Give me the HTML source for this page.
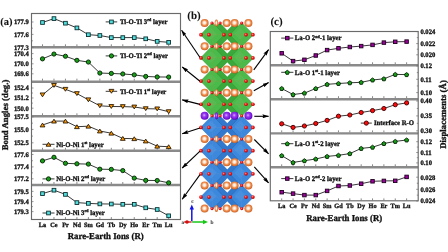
<!DOCTYPE html>
<html><head><meta charset="utf-8"><title>Bond angles and displacements</title>
<style>html,body{margin:0;padding:0;background:#fff;}svg{display:block;}text{text-rendering:geometricPrecision;}</style></head>
<body><svg width="448" height="252" viewBox="0 0 448 252"><defs>
<radialGradient id="gLa" cx="0.48" cy="0.46" r="0.55"><stop offset="0" stop-color="#ffffff"/><stop offset="0.32" stop-color="#fde2d0"/><stop offset="0.58" stop-color="#f09252"/><stop offset="0.84" stop-color="#dc7032"/><stop offset="1" stop-color="#b4561c"/></radialGradient>
<radialGradient id="gPu" cx="0.45" cy="0.42" r="0.6"><stop offset="0" stop-color="#d8b0ff"/><stop offset="0.35" stop-color="#9a3cf0"/><stop offset="0.8" stop-color="#7010d8"/><stop offset="1" stop-color="#4a0098"/></radialGradient>
<radialGradient id="gO" cx="0.4" cy="0.4" r="0.7"><stop offset="0" stop-color="#ff8080"/><stop offset="0.5" stop-color="#ee1010"/><stop offset="1" stop-color="#a00000"/></radialGradient>
<marker id="ah" viewBox="0 0 10 10" refX="9.5" refY="5" markerWidth="6.5" markerHeight="4" orient="auto" markerUnits="userSpaceOnUse" preserveAspectRatio="none"><path d="M0,0 L10,5 L0,10 L1.5,5 z" fill="#000"/></marker>
<marker id="ahb" viewBox="0 0 10 10" refX="2" refY="5" markerWidth="4.5" markerHeight="4.5" orient="auto" markerUnits="userSpaceOnUse"><path d="M0,0 L10,5 L0,10 z" fill="#1010e0"/></marker>
<marker id="ahg" viewBox="0 0 10 10" refX="2" refY="5" markerWidth="4.5" markerHeight="4.5" orient="auto" markerUnits="userSpaceOnUse"><path d="M0,0 L10,5 L0,10 z" fill="#10c010"/></marker>
</defs><rect width="448" height="252" fill="#fff"/><line x1="42.5" y1="46.3" x2="42.5" y2="44.3" stroke="#6a6a6a" stroke-width="0.8"/><line x1="53.97" y1="46.3" x2="53.97" y2="44.3" stroke="#6a6a6a" stroke-width="0.8"/><line x1="65.44" y1="46.3" x2="65.44" y2="44.3" stroke="#6a6a6a" stroke-width="0.8"/><line x1="76.91" y1="46.3" x2="76.91" y2="44.3" stroke="#6a6a6a" stroke-width="0.8"/><line x1="88.38" y1="46.3" x2="88.38" y2="44.3" stroke="#6a6a6a" stroke-width="0.8"/><line x1="99.85" y1="46.3" x2="99.85" y2="44.3" stroke="#6a6a6a" stroke-width="0.8"/><line x1="111.32" y1="46.3" x2="111.32" y2="44.3" stroke="#6a6a6a" stroke-width="0.8"/><line x1="122.79" y1="46.3" x2="122.79" y2="44.3" stroke="#6a6a6a" stroke-width="0.8"/><line x1="134.26" y1="46.3" x2="134.26" y2="44.3" stroke="#6a6a6a" stroke-width="0.8"/><line x1="145.73" y1="46.3" x2="145.73" y2="44.3" stroke="#6a6a6a" stroke-width="0.8"/><line x1="157.2" y1="46.3" x2="157.2" y2="44.3" stroke="#6a6a6a" stroke-width="0.8"/><line x1="168.67" y1="46.3" x2="168.67" y2="44.3" stroke="#6a6a6a" stroke-width="0.8"/><line x1="42.5" y1="80.7" x2="42.5" y2="78.7" stroke="#6a6a6a" stroke-width="0.8"/><line x1="53.97" y1="80.7" x2="53.97" y2="78.7" stroke="#6a6a6a" stroke-width="0.8"/><line x1="65.44" y1="80.7" x2="65.44" y2="78.7" stroke="#6a6a6a" stroke-width="0.8"/><line x1="76.91" y1="80.7" x2="76.91" y2="78.7" stroke="#6a6a6a" stroke-width="0.8"/><line x1="88.38" y1="80.7" x2="88.38" y2="78.7" stroke="#6a6a6a" stroke-width="0.8"/><line x1="99.85" y1="80.7" x2="99.85" y2="78.7" stroke="#6a6a6a" stroke-width="0.8"/><line x1="111.32" y1="80.7" x2="111.32" y2="78.7" stroke="#6a6a6a" stroke-width="0.8"/><line x1="122.79" y1="80.7" x2="122.79" y2="78.7" stroke="#6a6a6a" stroke-width="0.8"/><line x1="134.26" y1="80.7" x2="134.26" y2="78.7" stroke="#6a6a6a" stroke-width="0.8"/><line x1="145.73" y1="80.7" x2="145.73" y2="78.7" stroke="#6a6a6a" stroke-width="0.8"/><line x1="157.2" y1="80.7" x2="157.2" y2="78.7" stroke="#6a6a6a" stroke-width="0.8"/><line x1="168.67" y1="80.7" x2="168.67" y2="78.7" stroke="#6a6a6a" stroke-width="0.8"/><line x1="42.5" y1="115.3" x2="42.5" y2="113.3" stroke="#6a6a6a" stroke-width="0.8"/><line x1="53.97" y1="115.3" x2="53.97" y2="113.3" stroke="#6a6a6a" stroke-width="0.8"/><line x1="65.44" y1="115.3" x2="65.44" y2="113.3" stroke="#6a6a6a" stroke-width="0.8"/><line x1="76.91" y1="115.3" x2="76.91" y2="113.3" stroke="#6a6a6a" stroke-width="0.8"/><line x1="88.38" y1="115.3" x2="88.38" y2="113.3" stroke="#6a6a6a" stroke-width="0.8"/><line x1="99.85" y1="115.3" x2="99.85" y2="113.3" stroke="#6a6a6a" stroke-width="0.8"/><line x1="111.32" y1="115.3" x2="111.32" y2="113.3" stroke="#6a6a6a" stroke-width="0.8"/><line x1="122.79" y1="115.3" x2="122.79" y2="113.3" stroke="#6a6a6a" stroke-width="0.8"/><line x1="134.26" y1="115.3" x2="134.26" y2="113.3" stroke="#6a6a6a" stroke-width="0.8"/><line x1="145.73" y1="115.3" x2="145.73" y2="113.3" stroke="#6a6a6a" stroke-width="0.8"/><line x1="157.2" y1="115.3" x2="157.2" y2="113.3" stroke="#6a6a6a" stroke-width="0.8"/><line x1="168.67" y1="115.3" x2="168.67" y2="113.3" stroke="#6a6a6a" stroke-width="0.8"/><line x1="42.5" y1="149.8" x2="42.5" y2="147.8" stroke="#6a6a6a" stroke-width="0.8"/><line x1="53.97" y1="149.8" x2="53.97" y2="147.8" stroke="#6a6a6a" stroke-width="0.8"/><line x1="65.44" y1="149.8" x2="65.44" y2="147.8" stroke="#6a6a6a" stroke-width="0.8"/><line x1="76.91" y1="149.8" x2="76.91" y2="147.8" stroke="#6a6a6a" stroke-width="0.8"/><line x1="88.38" y1="149.8" x2="88.38" y2="147.8" stroke="#6a6a6a" stroke-width="0.8"/><line x1="99.85" y1="149.8" x2="99.85" y2="147.8" stroke="#6a6a6a" stroke-width="0.8"/><line x1="111.32" y1="149.8" x2="111.32" y2="147.8" stroke="#6a6a6a" stroke-width="0.8"/><line x1="122.79" y1="149.8" x2="122.79" y2="147.8" stroke="#6a6a6a" stroke-width="0.8"/><line x1="134.26" y1="149.8" x2="134.26" y2="147.8" stroke="#6a6a6a" stroke-width="0.8"/><line x1="145.73" y1="149.8" x2="145.73" y2="147.8" stroke="#6a6a6a" stroke-width="0.8"/><line x1="157.2" y1="149.8" x2="157.2" y2="147.8" stroke="#6a6a6a" stroke-width="0.8"/><line x1="168.67" y1="149.8" x2="168.67" y2="147.8" stroke="#6a6a6a" stroke-width="0.8"/><line x1="42.5" y1="184" x2="42.5" y2="182" stroke="#6a6a6a" stroke-width="0.8"/><line x1="53.97" y1="184" x2="53.97" y2="182" stroke="#6a6a6a" stroke-width="0.8"/><line x1="65.44" y1="184" x2="65.44" y2="182" stroke="#6a6a6a" stroke-width="0.8"/><line x1="76.91" y1="184" x2="76.91" y2="182" stroke="#6a6a6a" stroke-width="0.8"/><line x1="88.38" y1="184" x2="88.38" y2="182" stroke="#6a6a6a" stroke-width="0.8"/><line x1="99.85" y1="184" x2="99.85" y2="182" stroke="#6a6a6a" stroke-width="0.8"/><line x1="111.32" y1="184" x2="111.32" y2="182" stroke="#6a6a6a" stroke-width="0.8"/><line x1="122.79" y1="184" x2="122.79" y2="182" stroke="#6a6a6a" stroke-width="0.8"/><line x1="134.26" y1="184" x2="134.26" y2="182" stroke="#6a6a6a" stroke-width="0.8"/><line x1="145.73" y1="184" x2="145.73" y2="182" stroke="#6a6a6a" stroke-width="0.8"/><line x1="157.2" y1="184" x2="157.2" y2="182" stroke="#6a6a6a" stroke-width="0.8"/><line x1="168.67" y1="184" x2="168.67" y2="182" stroke="#6a6a6a" stroke-width="0.8"/><line x1="42.5" y1="219.1" x2="42.5" y2="217.1" stroke="#6a6a6a" stroke-width="0.8"/><line x1="53.97" y1="219.1" x2="53.97" y2="217.1" stroke="#6a6a6a" stroke-width="0.8"/><line x1="65.44" y1="219.1" x2="65.44" y2="217.1" stroke="#6a6a6a" stroke-width="0.8"/><line x1="76.91" y1="219.1" x2="76.91" y2="217.1" stroke="#6a6a6a" stroke-width="0.8"/><line x1="88.38" y1="219.1" x2="88.38" y2="217.1" stroke="#6a6a6a" stroke-width="0.8"/><line x1="99.85" y1="219.1" x2="99.85" y2="217.1" stroke="#6a6a6a" stroke-width="0.8"/><line x1="111.32" y1="219.1" x2="111.32" y2="217.1" stroke="#6a6a6a" stroke-width="0.8"/><line x1="122.79" y1="219.1" x2="122.79" y2="217.1" stroke="#6a6a6a" stroke-width="0.8"/><line x1="134.26" y1="219.1" x2="134.26" y2="217.1" stroke="#6a6a6a" stroke-width="0.8"/><line x1="145.73" y1="219.1" x2="145.73" y2="217.1" stroke="#6a6a6a" stroke-width="0.8"/><line x1="157.2" y1="219.1" x2="157.2" y2="217.1" stroke="#6a6a6a" stroke-width="0.8"/><line x1="168.67" y1="219.1" x2="168.67" y2="217.1" stroke="#6a6a6a" stroke-width="0.8"/><line x1="31.5" y1="47.3" x2="180.5" y2="47.3" stroke="#8a8a8a" stroke-width="2.4"/><line x1="31.5" y1="81.7" x2="180.5" y2="81.7" stroke="#8a8a8a" stroke-width="2.4"/><line x1="31.5" y1="116.3" x2="180.5" y2="116.3" stroke="#8a8a8a" stroke-width="2.4"/><line x1="31.5" y1="150.8" x2="180.5" y2="150.8" stroke="#8a8a8a" stroke-width="2.4"/><line x1="31.5" y1="185" x2="180.5" y2="185" stroke="#8a8a8a" stroke-width="2.4"/><rect x="31.5" y="13.5" width="149" height="206" fill="none" stroke="#6a6a6a" stroke-width="1.15"/><line x1="31.5" y1="28.2" x2="32.9" y2="28.2" stroke="#6a6a6a" stroke-width="0.7"/><line x1="31.5" y1="40.8" x2="32.9" y2="40.8" stroke="#6a6a6a" stroke-width="0.7"/><line x1="31.5" y1="58.7" x2="32.9" y2="58.7" stroke="#6a6a6a" stroke-width="0.7"/><line x1="31.5" y1="68.8" x2="32.9" y2="68.8" stroke="#6a6a6a" stroke-width="0.7"/><line x1="31.5" y1="93" x2="32.9" y2="93" stroke="#6a6a6a" stroke-width="0.7"/><line x1="31.5" y1="103.1" x2="32.9" y2="103.1" stroke="#6a6a6a" stroke-width="0.7"/><line x1="31.5" y1="123.15" x2="32.9" y2="123.15" stroke="#6a6a6a" stroke-width="0.7"/><line x1="31.5" y1="136.1" x2="32.9" y2="136.1" stroke="#6a6a6a" stroke-width="0.7"/><line x1="31.5" y1="160.7" x2="32.9" y2="160.7" stroke="#6a6a6a" stroke-width="0.7"/><line x1="31.5" y1="172.85" x2="32.9" y2="172.85" stroke="#6a6a6a" stroke-width="0.7"/><line x1="31.5" y1="196.5" x2="32.9" y2="196.5" stroke="#6a6a6a" stroke-width="0.7"/><line x1="31.5" y1="206.6" x2="32.9" y2="206.6" stroke="#6a6a6a" stroke-width="0.7"/><line x1="31.5" y1="22" x2="33.5" y2="22" stroke="#6a6a6a" stroke-width="0.7"/><text transform="translate(28.8,24.3) scale(0.955,1)" font-family="Liberation Serif, serif" font-weight="bold" font-size="6.9" text-anchor="end" fill="#111" stroke="#111" stroke-width="0.32">177.9</text><line x1="31.5" y1="34.4" x2="33.5" y2="34.4" stroke="#6a6a6a" stroke-width="0.7"/><text transform="translate(28.8,36.7) scale(0.955,1)" font-family="Liberation Serif, serif" font-weight="bold" font-size="6.9" text-anchor="end" fill="#111" stroke="#111" stroke-width="0.32">177.6</text><line x1="31.5" y1="47.2" x2="33.5" y2="47.2" stroke="#6a6a6a" stroke-width="0.7"/><text transform="translate(28.8,49.5) scale(0.955,1)" font-family="Liberation Serif, serif" font-weight="bold" font-size="6.9" text-anchor="end" fill="#111" stroke="#111" stroke-width="0.32">177.3</text><line x1="31.5" y1="53.6" x2="33.5" y2="53.6" stroke="#6a6a6a" stroke-width="0.7"/><text transform="translate(28.8,55.9) scale(0.955,1)" font-family="Liberation Serif, serif" font-weight="bold" font-size="6.9" text-anchor="end" fill="#111" stroke="#111" stroke-width="0.32">170.4</text><line x1="31.5" y1="63.8" x2="33.5" y2="63.8" stroke="#6a6a6a" stroke-width="0.7"/><text transform="translate(28.8,66.1) scale(0.955,1)" font-family="Liberation Serif, serif" font-weight="bold" font-size="6.9" text-anchor="end" fill="#111" stroke="#111" stroke-width="0.32">170.0</text><line x1="31.5" y1="73.8" x2="33.5" y2="73.8" stroke="#6a6a6a" stroke-width="0.7"/><text transform="translate(28.8,76.1) scale(0.955,1)" font-family="Liberation Serif, serif" font-weight="bold" font-size="6.9" text-anchor="end" fill="#111" stroke="#111" stroke-width="0.32">169.6</text><line x1="31.5" y1="88" x2="33.5" y2="88" stroke="#6a6a6a" stroke-width="0.7"/><text transform="translate(28.8,90.3) scale(0.955,1)" font-family="Liberation Serif, serif" font-weight="bold" font-size="6.9" text-anchor="end" fill="#111" stroke="#111" stroke-width="0.32">152.4</text><line x1="31.5" y1="98" x2="33.5" y2="98" stroke="#6a6a6a" stroke-width="0.7"/><text transform="translate(28.8,100.3) scale(0.955,1)" font-family="Liberation Serif, serif" font-weight="bold" font-size="6.9" text-anchor="end" fill="#111" stroke="#111" stroke-width="0.32">151.2</text><line x1="31.5" y1="108.2" x2="33.5" y2="108.2" stroke="#6a6a6a" stroke-width="0.7"/><text transform="translate(28.8,110.5) scale(0.955,1)" font-family="Liberation Serif, serif" font-weight="bold" font-size="6.9" text-anchor="end" fill="#111" stroke="#111" stroke-width="0.32">150.0</text><line x1="31.5" y1="116.9" x2="33.5" y2="116.9" stroke="#6a6a6a" stroke-width="0.7"/><text transform="translate(28.8,119.2) scale(0.955,1)" font-family="Liberation Serif, serif" font-weight="bold" font-size="6.9" text-anchor="end" fill="#111" stroke="#111" stroke-width="0.32">157.5</text><line x1="31.5" y1="129.4" x2="33.5" y2="129.4" stroke="#6a6a6a" stroke-width="0.7"/><text transform="translate(28.8,131.7) scale(0.955,1)" font-family="Liberation Serif, serif" font-weight="bold" font-size="6.9" text-anchor="end" fill="#111" stroke="#111" stroke-width="0.32">155.0</text><line x1="31.5" y1="142.8" x2="33.5" y2="142.8" stroke="#6a6a6a" stroke-width="0.7"/><text transform="translate(28.8,145.1) scale(0.955,1)" font-family="Liberation Serif, serif" font-weight="bold" font-size="6.9" text-anchor="end" fill="#111" stroke="#111" stroke-width="0.32">152.5</text><line x1="31.5" y1="154.5" x2="33.5" y2="154.5" stroke="#6a6a6a" stroke-width="0.7"/><text transform="translate(28.8,156.8) scale(0.955,1)" font-family="Liberation Serif, serif" font-weight="bold" font-size="6.9" text-anchor="end" fill="#111" stroke="#111" stroke-width="0.32">177.6</text><line x1="31.5" y1="166.9" x2="33.5" y2="166.9" stroke="#6a6a6a" stroke-width="0.7"/><text transform="translate(28.8,169.2) scale(0.955,1)" font-family="Liberation Serif, serif" font-weight="bold" font-size="6.9" text-anchor="end" fill="#111" stroke="#111" stroke-width="0.32">177.4</text><line x1="31.5" y1="178.8" x2="33.5" y2="178.8" stroke="#6a6a6a" stroke-width="0.7"/><text transform="translate(28.8,181.1) scale(0.955,1)" font-family="Liberation Serif, serif" font-weight="bold" font-size="6.9" text-anchor="end" fill="#111" stroke="#111" stroke-width="0.32">177.2</text><line x1="31.5" y1="191.4" x2="33.5" y2="191.4" stroke="#6a6a6a" stroke-width="0.7"/><text transform="translate(28.8,193.7) scale(0.955,1)" font-family="Liberation Serif, serif" font-weight="bold" font-size="6.9" text-anchor="end" fill="#111" stroke="#111" stroke-width="0.32">179.5</text><line x1="31.5" y1="201.6" x2="33.5" y2="201.6" stroke="#6a6a6a" stroke-width="0.7"/><text transform="translate(28.8,203.9) scale(0.955,1)" font-family="Liberation Serif, serif" font-weight="bold" font-size="6.9" text-anchor="end" fill="#111" stroke="#111" stroke-width="0.32">179.4</text><line x1="31.5" y1="211.6" x2="33.5" y2="211.6" stroke="#6a6a6a" stroke-width="0.7"/><text transform="translate(28.8,213.9) scale(0.955,1)" font-family="Liberation Serif, serif" font-weight="bold" font-size="6.9" text-anchor="end" fill="#111" stroke="#111" stroke-width="0.32">179.3</text><polyline points="42.5,22.5 53.97,18.6 65.44,23.2 76.91,27.9 88.38,34.7 99.85,35.5 111.32,37.6 122.79,37.6 134.26,37.6 145.73,38.8 157.2,41.4 168.67,42.3" fill="none" stroke="#222" stroke-width="0.9"/><rect x="40.65" y="20.65" width="3.7" height="3.7" fill="#50dede" stroke="#0d3030" stroke-width="0.9"/><rect x="52.12" y="16.75" width="3.7" height="3.7" fill="#50dede" stroke="#0d3030" stroke-width="0.9"/><rect x="63.59" y="21.35" width="3.7" height="3.7" fill="#50dede" stroke="#0d3030" stroke-width="0.9"/><rect x="75.06" y="26.05" width="3.7" height="3.7" fill="#50dede" stroke="#0d3030" stroke-width="0.9"/><rect x="86.53" y="32.85" width="3.7" height="3.7" fill="#50dede" stroke="#0d3030" stroke-width="0.9"/><rect x="98" y="33.65" width="3.7" height="3.7" fill="#50dede" stroke="#0d3030" stroke-width="0.9"/><rect x="109.47" y="35.75" width="3.7" height="3.7" fill="#50dede" stroke="#0d3030" stroke-width="0.9"/><rect x="120.94" y="35.75" width="3.7" height="3.7" fill="#50dede" stroke="#0d3030" stroke-width="0.9"/><rect x="132.41" y="35.75" width="3.7" height="3.7" fill="#50dede" stroke="#0d3030" stroke-width="0.9"/><rect x="143.88" y="36.95" width="3.7" height="3.7" fill="#50dede" stroke="#0d3030" stroke-width="0.9"/><rect x="155.35" y="39.55" width="3.7" height="3.7" fill="#50dede" stroke="#0d3030" stroke-width="0.9"/><rect x="166.82" y="40.45" width="3.7" height="3.7" fill="#50dede" stroke="#0d3030" stroke-width="0.9"/><polyline points="42.5,58.85 53.97,54.05 65.44,56.25 76.91,60.35 88.38,62.05 99.85,73.05 111.32,73.45 122.79,73.95 134.26,74.85 145.73,76.45 157.2,76.95 168.67,77.05" fill="none" stroke="#222" stroke-width="0.9"/><circle cx="42.5" cy="58.85" r="2.1" fill="#16a016" stroke="#062806" stroke-width="0.95"/><circle cx="53.97" cy="54.05" r="2.1" fill="#16a016" stroke="#062806" stroke-width="0.95"/><circle cx="65.44" cy="56.25" r="2.1" fill="#16a016" stroke="#062806" stroke-width="0.95"/><circle cx="76.91" cy="60.35" r="2.1" fill="#16a016" stroke="#062806" stroke-width="0.95"/><circle cx="88.38" cy="62.05" r="2.1" fill="#16a016" stroke="#062806" stroke-width="0.95"/><circle cx="99.85" cy="73.05" r="2.1" fill="#16a016" stroke="#062806" stroke-width="0.95"/><circle cx="111.32" cy="73.45" r="2.1" fill="#16a016" stroke="#062806" stroke-width="0.95"/><circle cx="122.79" cy="73.95" r="2.1" fill="#16a016" stroke="#062806" stroke-width="0.95"/><circle cx="134.26" cy="74.85" r="2.1" fill="#16a016" stroke="#062806" stroke-width="0.95"/><circle cx="145.73" cy="76.45" r="2.1" fill="#16a016" stroke="#062806" stroke-width="0.95"/><circle cx="157.2" cy="76.95" r="2.1" fill="#16a016" stroke="#062806" stroke-width="0.95"/><circle cx="168.67" cy="77.05" r="2.1" fill="#16a016" stroke="#062806" stroke-width="0.95"/><polyline points="42.5,94.9 53.97,85.4 65.44,89.3 76.91,93.6 88.38,99.8 99.85,105.8 111.32,106.5 122.79,106.6 134.26,107 145.73,108.7 157.2,108.9 168.67,111.7" fill="none" stroke="#222" stroke-width="0.9"/><polygon points="40.1,92.98 44.9,92.98 42.5,96.82" fill="#ff9a00" stroke="#2a1800" stroke-width="0.9"/><polygon points="51.57,83.48 56.37,83.48 53.97,87.32" fill="#ff9a00" stroke="#2a1800" stroke-width="0.9"/><polygon points="63.04,87.38 67.84,87.38 65.44,91.22" fill="#ff9a00" stroke="#2a1800" stroke-width="0.9"/><polygon points="74.51,91.68 79.31,91.68 76.91,95.52" fill="#ff9a00" stroke="#2a1800" stroke-width="0.9"/><polygon points="85.98,97.88 90.78,97.88 88.38,101.72" fill="#ff9a00" stroke="#2a1800" stroke-width="0.9"/><polygon points="97.45,103.88 102.25,103.88 99.85,107.72" fill="#ff9a00" stroke="#2a1800" stroke-width="0.9"/><polygon points="108.92,104.58 113.72,104.58 111.32,108.42" fill="#ff9a00" stroke="#2a1800" stroke-width="0.9"/><polygon points="120.39,104.68 125.19,104.68 122.79,108.52" fill="#ff9a00" stroke="#2a1800" stroke-width="0.9"/><polygon points="131.86,105.08 136.66,105.08 134.26,108.92" fill="#ff9a00" stroke="#2a1800" stroke-width="0.9"/><polygon points="143.33,106.78 148.13,106.78 145.73,110.62" fill="#ff9a00" stroke="#2a1800" stroke-width="0.9"/><polygon points="154.8,106.98 159.6,106.98 157.2,110.82" fill="#ff9a00" stroke="#2a1800" stroke-width="0.9"/><polygon points="166.27,109.78 171.07,109.78 168.67,113.62" fill="#ff9a00" stroke="#2a1800" stroke-width="0.9"/><polyline points="42.5,125 53.97,121.1 65.44,121.1 76.91,126.7 88.38,126.2 99.85,131 111.32,133.2 122.79,138.4 134.26,138.7 145.73,141 157.2,146.2 168.67,146.7" fill="none" stroke="#222" stroke-width="0.9"/><polygon points="40.1,126.92 44.9,126.92 42.5,123.08" fill="#ff9a00" stroke="#2a1800" stroke-width="0.9"/><polygon points="51.57,123.02 56.37,123.02 53.97,119.18" fill="#ff9a00" stroke="#2a1800" stroke-width="0.9"/><polygon points="63.04,123.02 67.84,123.02 65.44,119.18" fill="#ff9a00" stroke="#2a1800" stroke-width="0.9"/><polygon points="74.51,128.62 79.31,128.62 76.91,124.78" fill="#ff9a00" stroke="#2a1800" stroke-width="0.9"/><polygon points="85.98,128.12 90.78,128.12 88.38,124.28" fill="#ff9a00" stroke="#2a1800" stroke-width="0.9"/><polygon points="97.45,132.92 102.25,132.92 99.85,129.08" fill="#ff9a00" stroke="#2a1800" stroke-width="0.9"/><polygon points="108.92,135.12 113.72,135.12 111.32,131.28" fill="#ff9a00" stroke="#2a1800" stroke-width="0.9"/><polygon points="120.39,140.32 125.19,140.32 122.79,136.48" fill="#ff9a00" stroke="#2a1800" stroke-width="0.9"/><polygon points="131.86,140.62 136.66,140.62 134.26,136.78" fill="#ff9a00" stroke="#2a1800" stroke-width="0.9"/><polygon points="143.33,142.92 148.13,142.92 145.73,139.08" fill="#ff9a00" stroke="#2a1800" stroke-width="0.9"/><polygon points="154.8,148.12 159.6,148.12 157.2,144.28" fill="#ff9a00" stroke="#2a1800" stroke-width="0.9"/><polygon points="166.27,148.62 171.07,148.62 168.67,144.78" fill="#ff9a00" stroke="#2a1800" stroke-width="0.9"/><polyline points="42.5,160.9 53.97,157.3 65.44,163.3 76.91,163.8 88.38,164.1 99.85,169.2 111.32,169.4 122.79,170.6 134.26,178.1 145.73,180.4 157.2,180.5 168.67,182.8" fill="none" stroke="#222" stroke-width="0.9"/><circle cx="42.5" cy="160.9" r="2.1" fill="#16a016" stroke="#062806" stroke-width="0.95"/><circle cx="53.97" cy="157.3" r="2.1" fill="#16a016" stroke="#062806" stroke-width="0.95"/><circle cx="65.44" cy="163.3" r="2.1" fill="#16a016" stroke="#062806" stroke-width="0.95"/><circle cx="76.91" cy="163.8" r="2.1" fill="#16a016" stroke="#062806" stroke-width="0.95"/><circle cx="88.38" cy="164.1" r="2.1" fill="#16a016" stroke="#062806" stroke-width="0.95"/><circle cx="99.85" cy="169.2" r="2.1" fill="#16a016" stroke="#062806" stroke-width="0.95"/><circle cx="111.32" cy="169.4" r="2.1" fill="#16a016" stroke="#062806" stroke-width="0.95"/><circle cx="122.79" cy="170.6" r="2.1" fill="#16a016" stroke="#062806" stroke-width="0.95"/><circle cx="134.26" cy="178.1" r="2.1" fill="#16a016" stroke="#062806" stroke-width="0.95"/><circle cx="145.73" cy="180.4" r="2.1" fill="#16a016" stroke="#062806" stroke-width="0.95"/><circle cx="157.2" cy="180.5" r="2.1" fill="#16a016" stroke="#062806" stroke-width="0.95"/><circle cx="168.67" cy="182.8" r="2.1" fill="#16a016" stroke="#062806" stroke-width="0.95"/><polyline points="42.5,193.6 53.97,190.2 65.44,194.4 76.91,202.6 88.38,203.4 99.85,203.9 111.32,204 122.79,204.3 134.26,204.3 145.73,207.8 157.2,209.5 168.67,215.8" fill="none" stroke="#222" stroke-width="0.9"/><rect x="40.65" y="191.75" width="3.7" height="3.7" fill="#50dede" stroke="#0d3030" stroke-width="0.9"/><rect x="52.12" y="188.35" width="3.7" height="3.7" fill="#50dede" stroke="#0d3030" stroke-width="0.9"/><rect x="63.59" y="192.55" width="3.7" height="3.7" fill="#50dede" stroke="#0d3030" stroke-width="0.9"/><rect x="75.06" y="200.75" width="3.7" height="3.7" fill="#50dede" stroke="#0d3030" stroke-width="0.9"/><rect x="86.53" y="201.55" width="3.7" height="3.7" fill="#50dede" stroke="#0d3030" stroke-width="0.9"/><rect x="98" y="202.05" width="3.7" height="3.7" fill="#50dede" stroke="#0d3030" stroke-width="0.9"/><rect x="109.47" y="202.15" width="3.7" height="3.7" fill="#50dede" stroke="#0d3030" stroke-width="0.9"/><rect x="120.94" y="202.45" width="3.7" height="3.7" fill="#50dede" stroke="#0d3030" stroke-width="0.9"/><rect x="132.41" y="202.45" width="3.7" height="3.7" fill="#50dede" stroke="#0d3030" stroke-width="0.9"/><rect x="143.88" y="205.95" width="3.7" height="3.7" fill="#50dede" stroke="#0d3030" stroke-width="0.9"/><rect x="155.35" y="207.65" width="3.7" height="3.7" fill="#50dede" stroke="#0d3030" stroke-width="0.9"/><rect x="166.82" y="213.95" width="3.7" height="3.7" fill="#50dede" stroke="#0d3030" stroke-width="0.9"/><line x1="105.7" y1="21.9" x2="117.2" y2="21.9" stroke="#222" stroke-width="0.9"/><rect x="109.6" y="20.05" width="3.7" height="3.7" fill="#50dede" stroke="#0d3030" stroke-width="0.9"/><text transform="translate(120,24.2) scale(0.96,1)" font-family="Liberation Serif, serif" font-weight="bold" font-size="7.0" text-anchor="start" fill="#111" stroke="#111" stroke-width="0.32">Ti-O-Ti 3<tspan font-size="4.2" dy="-2.9">rd</tspan><tspan dy="2.9"> layer</tspan></text><line x1="105.7" y1="55.9" x2="117.2" y2="55.9" stroke="#222" stroke-width="0.9"/><circle cx="111.45" cy="55.9" r="2.1" fill="#16a016" stroke="#062806" stroke-width="0.95"/><text transform="translate(120,58.2) scale(0.96,1)" font-family="Liberation Serif, serif" font-weight="bold" font-size="7.0" text-anchor="start" fill="#111" stroke="#111" stroke-width="0.32">Ti-O-Ti 2<tspan font-size="4.2" dy="-2.9">nd</tspan><tspan dy="2.9"> layer</tspan></text><line x1="105.7" y1="91.3" x2="117.2" y2="91.3" stroke="#222" stroke-width="0.9"/><polygon points="109.05,89.38 113.85,89.38 111.45,93.22" fill="#ff9a00" stroke="#2a1800" stroke-width="0.9"/><text transform="translate(120,93.6) scale(0.96,1)" font-family="Liberation Serif, serif" font-weight="bold" font-size="7.0" text-anchor="start" fill="#111" stroke="#111" stroke-width="0.32">Ti-O-Ti 1<tspan font-size="4.2" dy="-2.9">st</tspan><tspan dy="2.9"> layer</tspan></text><line x1="42.5" y1="144.3" x2="54.5" y2="144.3" stroke="#222" stroke-width="0.9"/><polygon points="46.1,146.22 50.9,146.22 48.5,142.38" fill="#ff9a00" stroke="#2a1800" stroke-width="0.9"/><text transform="translate(56.3,146.6) scale(0.96,1)" font-family="Liberation Serif, serif" font-weight="bold" font-size="7.0" text-anchor="start" fill="#111" stroke="#111" stroke-width="0.32">Ni-O-Ni 1<tspan font-size="4.2" dy="-2.9">st</tspan><tspan dy="2.9"> layer</tspan></text><line x1="42.5" y1="178.9" x2="54.5" y2="178.9" stroke="#222" stroke-width="0.9"/><circle cx="48.5" cy="178.9" r="2.1" fill="#16a016" stroke="#062806" stroke-width="0.95"/><text transform="translate(56.3,181.2) scale(0.96,1)" font-family="Liberation Serif, serif" font-weight="bold" font-size="7.0" text-anchor="start" fill="#111" stroke="#111" stroke-width="0.32">Ni-O-Ni 2<tspan font-size="4.2" dy="-2.9">nd</tspan><tspan dy="2.9"> layer</tspan></text><line x1="42.5" y1="213" x2="54.5" y2="213" stroke="#222" stroke-width="0.9"/><rect x="46.65" y="211.15" width="3.7" height="3.7" fill="#50dede" stroke="#0d3030" stroke-width="0.9"/><text transform="translate(56.3,215.3) scale(0.96,1)" font-family="Liberation Serif, serif" font-weight="bold" font-size="7.0" text-anchor="start" fill="#111" stroke="#111" stroke-width="0.32">Ni-O-Ni 3<tspan font-size="4.2" dy="-2.9">rd</tspan><tspan dy="2.9"> layer</tspan></text><line x1="281.7" y1="64.3" x2="281.7" y2="62.3" stroke="#6a6a6a" stroke-width="0.8"/><line x1="293.06" y1="64.3" x2="293.06" y2="62.3" stroke="#6a6a6a" stroke-width="0.8"/><line x1="304.41" y1="64.3" x2="304.41" y2="62.3" stroke="#6a6a6a" stroke-width="0.8"/><line x1="315.76" y1="64.3" x2="315.76" y2="62.3" stroke="#6a6a6a" stroke-width="0.8"/><line x1="327.12" y1="64.3" x2="327.12" y2="62.3" stroke="#6a6a6a" stroke-width="0.8"/><line x1="338.48" y1="64.3" x2="338.48" y2="62.3" stroke="#6a6a6a" stroke-width="0.8"/><line x1="349.83" y1="64.3" x2="349.83" y2="62.3" stroke="#6a6a6a" stroke-width="0.8"/><line x1="361.19" y1="64.3" x2="361.19" y2="62.3" stroke="#6a6a6a" stroke-width="0.8"/><line x1="372.54" y1="64.3" x2="372.54" y2="62.3" stroke="#6a6a6a" stroke-width="0.8"/><line x1="383.89" y1="64.3" x2="383.89" y2="62.3" stroke="#6a6a6a" stroke-width="0.8"/><line x1="395.25" y1="64.3" x2="395.25" y2="62.3" stroke="#6a6a6a" stroke-width="0.8"/><line x1="406.61" y1="64.3" x2="406.61" y2="62.3" stroke="#6a6a6a" stroke-width="0.8"/><line x1="281.7" y1="98.2" x2="281.7" y2="96.2" stroke="#6a6a6a" stroke-width="0.8"/><line x1="293.06" y1="98.2" x2="293.06" y2="96.2" stroke="#6a6a6a" stroke-width="0.8"/><line x1="304.41" y1="98.2" x2="304.41" y2="96.2" stroke="#6a6a6a" stroke-width="0.8"/><line x1="315.76" y1="98.2" x2="315.76" y2="96.2" stroke="#6a6a6a" stroke-width="0.8"/><line x1="327.12" y1="98.2" x2="327.12" y2="96.2" stroke="#6a6a6a" stroke-width="0.8"/><line x1="338.48" y1="98.2" x2="338.48" y2="96.2" stroke="#6a6a6a" stroke-width="0.8"/><line x1="349.83" y1="98.2" x2="349.83" y2="96.2" stroke="#6a6a6a" stroke-width="0.8"/><line x1="361.19" y1="98.2" x2="361.19" y2="96.2" stroke="#6a6a6a" stroke-width="0.8"/><line x1="372.54" y1="98.2" x2="372.54" y2="96.2" stroke="#6a6a6a" stroke-width="0.8"/><line x1="383.89" y1="98.2" x2="383.89" y2="96.2" stroke="#6a6a6a" stroke-width="0.8"/><line x1="395.25" y1="98.2" x2="395.25" y2="96.2" stroke="#6a6a6a" stroke-width="0.8"/><line x1="406.61" y1="98.2" x2="406.61" y2="96.2" stroke="#6a6a6a" stroke-width="0.8"/><line x1="281.7" y1="132.4" x2="281.7" y2="130.4" stroke="#6a6a6a" stroke-width="0.8"/><line x1="293.06" y1="132.4" x2="293.06" y2="130.4" stroke="#6a6a6a" stroke-width="0.8"/><line x1="304.41" y1="132.4" x2="304.41" y2="130.4" stroke="#6a6a6a" stroke-width="0.8"/><line x1="315.76" y1="132.4" x2="315.76" y2="130.4" stroke="#6a6a6a" stroke-width="0.8"/><line x1="327.12" y1="132.4" x2="327.12" y2="130.4" stroke="#6a6a6a" stroke-width="0.8"/><line x1="338.48" y1="132.4" x2="338.48" y2="130.4" stroke="#6a6a6a" stroke-width="0.8"/><line x1="349.83" y1="132.4" x2="349.83" y2="130.4" stroke="#6a6a6a" stroke-width="0.8"/><line x1="361.19" y1="132.4" x2="361.19" y2="130.4" stroke="#6a6a6a" stroke-width="0.8"/><line x1="372.54" y1="132.4" x2="372.54" y2="130.4" stroke="#6a6a6a" stroke-width="0.8"/><line x1="383.89" y1="132.4" x2="383.89" y2="130.4" stroke="#6a6a6a" stroke-width="0.8"/><line x1="395.25" y1="132.4" x2="395.25" y2="130.4" stroke="#6a6a6a" stroke-width="0.8"/><line x1="406.61" y1="132.4" x2="406.61" y2="130.4" stroke="#6a6a6a" stroke-width="0.8"/><line x1="281.7" y1="166.3" x2="281.7" y2="164.3" stroke="#6a6a6a" stroke-width="0.8"/><line x1="293.06" y1="166.3" x2="293.06" y2="164.3" stroke="#6a6a6a" stroke-width="0.8"/><line x1="304.41" y1="166.3" x2="304.41" y2="164.3" stroke="#6a6a6a" stroke-width="0.8"/><line x1="315.76" y1="166.3" x2="315.76" y2="164.3" stroke="#6a6a6a" stroke-width="0.8"/><line x1="327.12" y1="166.3" x2="327.12" y2="164.3" stroke="#6a6a6a" stroke-width="0.8"/><line x1="338.48" y1="166.3" x2="338.48" y2="164.3" stroke="#6a6a6a" stroke-width="0.8"/><line x1="349.83" y1="166.3" x2="349.83" y2="164.3" stroke="#6a6a6a" stroke-width="0.8"/><line x1="361.19" y1="166.3" x2="361.19" y2="164.3" stroke="#6a6a6a" stroke-width="0.8"/><line x1="372.54" y1="166.3" x2="372.54" y2="164.3" stroke="#6a6a6a" stroke-width="0.8"/><line x1="383.89" y1="166.3" x2="383.89" y2="164.3" stroke="#6a6a6a" stroke-width="0.8"/><line x1="395.25" y1="166.3" x2="395.25" y2="164.3" stroke="#6a6a6a" stroke-width="0.8"/><line x1="406.61" y1="166.3" x2="406.61" y2="164.3" stroke="#6a6a6a" stroke-width="0.8"/><line x1="281.7" y1="200.4" x2="281.7" y2="198.4" stroke="#6a6a6a" stroke-width="0.8"/><line x1="293.06" y1="200.4" x2="293.06" y2="198.4" stroke="#6a6a6a" stroke-width="0.8"/><line x1="304.41" y1="200.4" x2="304.41" y2="198.4" stroke="#6a6a6a" stroke-width="0.8"/><line x1="315.76" y1="200.4" x2="315.76" y2="198.4" stroke="#6a6a6a" stroke-width="0.8"/><line x1="327.12" y1="200.4" x2="327.12" y2="198.4" stroke="#6a6a6a" stroke-width="0.8"/><line x1="338.48" y1="200.4" x2="338.48" y2="198.4" stroke="#6a6a6a" stroke-width="0.8"/><line x1="349.83" y1="200.4" x2="349.83" y2="198.4" stroke="#6a6a6a" stroke-width="0.8"/><line x1="361.19" y1="200.4" x2="361.19" y2="198.4" stroke="#6a6a6a" stroke-width="0.8"/><line x1="372.54" y1="200.4" x2="372.54" y2="198.4" stroke="#6a6a6a" stroke-width="0.8"/><line x1="383.89" y1="200.4" x2="383.89" y2="198.4" stroke="#6a6a6a" stroke-width="0.8"/><line x1="395.25" y1="200.4" x2="395.25" y2="198.4" stroke="#6a6a6a" stroke-width="0.8"/><line x1="406.61" y1="200.4" x2="406.61" y2="198.4" stroke="#6a6a6a" stroke-width="0.8"/><line x1="270.3" y1="65.3" x2="418.2" y2="65.3" stroke="#8a8a8a" stroke-width="2.4"/><line x1="270.3" y1="99.2" x2="418.2" y2="99.2" stroke="#8a8a8a" stroke-width="2.4"/><line x1="270.3" y1="133.4" x2="418.2" y2="133.4" stroke="#8a8a8a" stroke-width="2.4"/><line x1="270.3" y1="167.3" x2="418.2" y2="167.3" stroke="#8a8a8a" stroke-width="2.4"/><rect x="270.3" y="31.5" width="147.9" height="169.3" fill="none" stroke="#6a6a6a" stroke-width="1.15"/><line x1="418.2" y1="37.6" x2="416.8" y2="37.6" stroke="#6a6a6a" stroke-width="0.7"/><line x1="418.2" y1="49.2" x2="416.8" y2="49.2" stroke="#6a6a6a" stroke-width="0.7"/><line x1="418.2" y1="72.6" x2="416.8" y2="72.6" stroke="#6a6a6a" stroke-width="0.7"/><line x1="418.2" y1="85.95" x2="416.8" y2="85.95" stroke="#6a6a6a" stroke-width="0.7"/><line x1="418.2" y1="108.45" x2="416.8" y2="108.45" stroke="#6a6a6a" stroke-width="0.7"/><line x1="418.2" y1="123.35" x2="416.8" y2="123.35" stroke="#6a6a6a" stroke-width="0.7"/><line x1="418.2" y1="147.1" x2="416.8" y2="147.1" stroke="#6a6a6a" stroke-width="0.7"/><line x1="418.2" y1="157.7" x2="416.8" y2="157.7" stroke="#6a6a6a" stroke-width="0.7"/><line x1="418.2" y1="183.25" x2="416.8" y2="183.25" stroke="#6a6a6a" stroke-width="0.7"/><line x1="418.2" y1="195.15" x2="416.8" y2="195.15" stroke="#6a6a6a" stroke-width="0.7"/><line x1="418.2" y1="31.6" x2="416.2" y2="31.6" stroke="#6a6a6a" stroke-width="0.7"/><text transform="translate(420.4,33.9) scale(0.955,1)" font-family="Liberation Serif, serif" font-weight="bold" font-size="6.9" text-anchor="start" fill="#111" stroke="#111" stroke-width="0.32">0.024</text><line x1="418.2" y1="43.6" x2="416.2" y2="43.6" stroke="#6a6a6a" stroke-width="0.7"/><text transform="translate(420.4,45.9) scale(0.955,1)" font-family="Liberation Serif, serif" font-weight="bold" font-size="6.9" text-anchor="start" fill="#111" stroke="#111" stroke-width="0.32">0.022</text><line x1="418.2" y1="54.8" x2="416.2" y2="54.8" stroke="#6a6a6a" stroke-width="0.7"/><text transform="translate(420.4,57.1) scale(0.955,1)" font-family="Liberation Serif, serif" font-weight="bold" font-size="6.9" text-anchor="start" fill="#111" stroke="#111" stroke-width="0.32">0.020</text><line x1="418.2" y1="65.9" x2="416.2" y2="65.9" stroke="#6a6a6a" stroke-width="0.7"/><text transform="translate(420.4,68.2) scale(0.955,1)" font-family="Liberation Serif, serif" font-weight="bold" font-size="6.9" text-anchor="start" fill="#111" stroke="#111" stroke-width="0.32">0.12</text><line x1="418.2" y1="79.3" x2="416.2" y2="79.3" stroke="#6a6a6a" stroke-width="0.7"/><text transform="translate(420.4,81.6) scale(0.955,1)" font-family="Liberation Serif, serif" font-weight="bold" font-size="6.9" text-anchor="start" fill="#111" stroke="#111" stroke-width="0.32">0.11</text><line x1="418.2" y1="92.6" x2="416.2" y2="92.6" stroke="#6a6a6a" stroke-width="0.7"/><text transform="translate(420.4,94.9) scale(0.955,1)" font-family="Liberation Serif, serif" font-weight="bold" font-size="6.9" text-anchor="start" fill="#111" stroke="#111" stroke-width="0.32">0.10</text><line x1="418.2" y1="101" x2="416.2" y2="101" stroke="#6a6a6a" stroke-width="0.7"/><text transform="translate(420.4,103.3) scale(0.955,1)" font-family="Liberation Serif, serif" font-weight="bold" font-size="6.9" text-anchor="start" fill="#111" stroke="#111" stroke-width="0.32">0.40</text><line x1="418.2" y1="115.9" x2="416.2" y2="115.9" stroke="#6a6a6a" stroke-width="0.7"/><text transform="translate(420.4,118.2) scale(0.955,1)" font-family="Liberation Serif, serif" font-weight="bold" font-size="6.9" text-anchor="start" fill="#111" stroke="#111" stroke-width="0.32">0.35</text><line x1="418.2" y1="130.8" x2="416.2" y2="130.8" stroke="#6a6a6a" stroke-width="0.7"/><text transform="translate(420.4,133.1) scale(0.955,1)" font-family="Liberation Serif, serif" font-weight="bold" font-size="6.9" text-anchor="start" fill="#111" stroke="#111" stroke-width="0.32">0.30</text><line x1="418.2" y1="141.7" x2="416.2" y2="141.7" stroke="#6a6a6a" stroke-width="0.7"/><text transform="translate(420.4,144) scale(0.955,1)" font-family="Liberation Serif, serif" font-weight="bold" font-size="6.9" text-anchor="start" fill="#111" stroke="#111" stroke-width="0.32">0.12</text><line x1="418.2" y1="152.5" x2="416.2" y2="152.5" stroke="#6a6a6a" stroke-width="0.7"/><text transform="translate(420.4,154.8) scale(0.955,1)" font-family="Liberation Serif, serif" font-weight="bold" font-size="6.9" text-anchor="start" fill="#111" stroke="#111" stroke-width="0.32">0.11</text><line x1="418.2" y1="162.9" x2="416.2" y2="162.9" stroke="#6a6a6a" stroke-width="0.7"/><text transform="translate(420.4,165.2) scale(0.955,1)" font-family="Liberation Serif, serif" font-weight="bold" font-size="6.9" text-anchor="start" fill="#111" stroke="#111" stroke-width="0.32">0.10</text><line x1="418.2" y1="177.2" x2="416.2" y2="177.2" stroke="#6a6a6a" stroke-width="0.7"/><text transform="translate(420.4,179.5) scale(0.955,1)" font-family="Liberation Serif, serif" font-weight="bold" font-size="6.9" text-anchor="start" fill="#111" stroke="#111" stroke-width="0.32">0.028</text><line x1="418.2" y1="189.3" x2="416.2" y2="189.3" stroke="#6a6a6a" stroke-width="0.7"/><text transform="translate(420.4,191.6) scale(0.955,1)" font-family="Liberation Serif, serif" font-weight="bold" font-size="6.9" text-anchor="start" fill="#111" stroke="#111" stroke-width="0.32">0.026</text><line x1="418.2" y1="201" x2="416.2" y2="201" stroke="#6a6a6a" stroke-width="0.7"/><text transform="translate(420.4,203.3) scale(0.955,1)" font-family="Liberation Serif, serif" font-weight="bold" font-size="6.9" text-anchor="start" fill="#111" stroke="#111" stroke-width="0.32">0.024</text><polyline points="281.7,53.3 293.06,61.1 304.41,59.8 315.76,55.5 327.12,50.1 338.48,48.3 349.83,47 361.19,46.1 372.54,44.9 383.89,42.6 395.25,41.8 406.61,41.6" fill="none" stroke="#222" stroke-width="0.9"/><rect x="279.95" y="51.55" width="3.5" height="3.5" fill="#9a009a" stroke="#200020" stroke-width="0.9"/><rect x="291.31" y="59.35" width="3.5" height="3.5" fill="#9a009a" stroke="#200020" stroke-width="0.9"/><rect x="302.66" y="58.05" width="3.5" height="3.5" fill="#9a009a" stroke="#200020" stroke-width="0.9"/><rect x="314.01" y="53.75" width="3.5" height="3.5" fill="#9a009a" stroke="#200020" stroke-width="0.9"/><rect x="325.37" y="48.35" width="3.5" height="3.5" fill="#9a009a" stroke="#200020" stroke-width="0.9"/><rect x="336.73" y="46.55" width="3.5" height="3.5" fill="#9a009a" stroke="#200020" stroke-width="0.9"/><rect x="348.08" y="45.25" width="3.5" height="3.5" fill="#9a009a" stroke="#200020" stroke-width="0.9"/><rect x="359.44" y="44.35" width="3.5" height="3.5" fill="#9a009a" stroke="#200020" stroke-width="0.9"/><rect x="370.79" y="43.15" width="3.5" height="3.5" fill="#9a009a" stroke="#200020" stroke-width="0.9"/><rect x="382.14" y="40.85" width="3.5" height="3.5" fill="#9a009a" stroke="#200020" stroke-width="0.9"/><rect x="393.5" y="40.05" width="3.5" height="3.5" fill="#9a009a" stroke="#200020" stroke-width="0.9"/><rect x="404.86" y="39.85" width="3.5" height="3.5" fill="#9a009a" stroke="#200020" stroke-width="0.9"/><polyline points="281.7,88.5 293.06,94.5 304.41,93.1 315.76,88.5 327.12,84.3 338.48,83.5 349.83,82.8 361.19,82.3 372.54,80 383.89,78.8 395.25,74.4 406.61,74.6" fill="none" stroke="#222" stroke-width="0.9"/><polygon points="281.7,86.5 283.79,88.02 282.99,90.48 280.41,90.48 279.61,88.02" fill="#16a016" stroke="#062806" stroke-width="0.95"/><polygon points="293.06,92.5 295.15,94.02 294.35,96.48 291.76,96.48 290.96,94.02" fill="#16a016" stroke="#062806" stroke-width="0.95"/><polygon points="304.41,91.1 306.5,92.62 305.7,95.08 303.12,95.08 302.32,92.62" fill="#16a016" stroke="#062806" stroke-width="0.95"/><polygon points="315.76,86.5 317.86,88.02 317.06,90.48 314.47,90.48 313.67,88.02" fill="#16a016" stroke="#062806" stroke-width="0.95"/><polygon points="327.12,82.3 329.21,83.82 328.41,86.28 325.83,86.28 325.03,83.82" fill="#16a016" stroke="#062806" stroke-width="0.95"/><polygon points="338.48,81.5 340.57,83.02 339.77,85.48 337.18,85.48 336.38,83.02" fill="#16a016" stroke="#062806" stroke-width="0.95"/><polygon points="349.83,80.8 351.92,82.32 351.12,84.78 348.54,84.78 347.74,82.32" fill="#16a016" stroke="#062806" stroke-width="0.95"/><polygon points="361.19,80.3 363.28,81.82 362.48,84.28 359.89,84.28 359.09,81.82" fill="#16a016" stroke="#062806" stroke-width="0.95"/><polygon points="372.54,78 374.63,79.52 373.83,81.98 371.25,81.98 370.45,79.52" fill="#16a016" stroke="#062806" stroke-width="0.95"/><polygon points="383.89,76.8 385.99,78.32 385.19,80.78 382.6,80.78 381.8,78.32" fill="#16a016" stroke="#062806" stroke-width="0.95"/><polygon points="395.25,72.4 397.34,73.92 396.54,76.38 393.96,76.38 393.16,73.92" fill="#16a016" stroke="#062806" stroke-width="0.95"/><polygon points="406.61,72.6 408.7,74.12 407.9,76.58 405.31,76.58 404.51,74.12" fill="#16a016" stroke="#062806" stroke-width="0.95"/><polyline points="281.7,123.8 293.06,127.4 304.41,126 315.76,123.5 327.12,120.4 338.48,116.2 349.83,115 361.19,112.5 372.54,110.6 383.89,108.5 395.25,104.7 406.61,102.9" fill="none" stroke="#222" stroke-width="0.9"/><circle cx="281.7" cy="123.8" r="2.1" fill="#ff0a0a" stroke="#4a0000" stroke-width="0.95"/><circle cx="293.06" cy="127.4" r="2.1" fill="#ff0a0a" stroke="#4a0000" stroke-width="0.95"/><circle cx="304.41" cy="126" r="2.1" fill="#ff0a0a" stroke="#4a0000" stroke-width="0.95"/><circle cx="315.76" cy="123.5" r="2.1" fill="#ff0a0a" stroke="#4a0000" stroke-width="0.95"/><circle cx="327.12" cy="120.4" r="2.1" fill="#ff0a0a" stroke="#4a0000" stroke-width="0.95"/><circle cx="338.48" cy="116.2" r="2.1" fill="#ff0a0a" stroke="#4a0000" stroke-width="0.95"/><circle cx="349.83" cy="115" r="2.1" fill="#ff0a0a" stroke="#4a0000" stroke-width="0.95"/><circle cx="361.19" cy="112.5" r="2.1" fill="#ff0a0a" stroke="#4a0000" stroke-width="0.95"/><circle cx="372.54" cy="110.6" r="2.1" fill="#ff0a0a" stroke="#4a0000" stroke-width="0.95"/><circle cx="383.89" cy="108.5" r="2.1" fill="#ff0a0a" stroke="#4a0000" stroke-width="0.95"/><circle cx="395.25" cy="104.7" r="2.1" fill="#ff0a0a" stroke="#4a0000" stroke-width="0.95"/><circle cx="406.61" cy="102.9" r="2.1" fill="#ff0a0a" stroke="#4a0000" stroke-width="0.95"/><polyline points="281.7,155.6 293.06,162.4 304.41,160.7 315.76,159 327.12,156.4 338.48,155.3 349.83,153.6 361.19,148.4 372.54,147.2 383.89,143.5 395.25,141.4 406.61,140" fill="none" stroke="#222" stroke-width="0.9"/><polygon points="281.7,153.6 283.79,155.12 282.99,157.58 280.41,157.58 279.61,155.12" fill="#16a016" stroke="#062806" stroke-width="0.95"/><polygon points="293.06,160.4 295.15,161.92 294.35,164.38 291.76,164.38 290.96,161.92" fill="#16a016" stroke="#062806" stroke-width="0.95"/><polygon points="304.41,158.7 306.5,160.22 305.7,162.68 303.12,162.68 302.32,160.22" fill="#16a016" stroke="#062806" stroke-width="0.95"/><polygon points="315.76,157 317.86,158.52 317.06,160.98 314.47,160.98 313.67,158.52" fill="#16a016" stroke="#062806" stroke-width="0.95"/><polygon points="327.12,154.4 329.21,155.92 328.41,158.38 325.83,158.38 325.03,155.92" fill="#16a016" stroke="#062806" stroke-width="0.95"/><polygon points="338.48,153.3 340.57,154.82 339.77,157.28 337.18,157.28 336.38,154.82" fill="#16a016" stroke="#062806" stroke-width="0.95"/><polygon points="349.83,151.6 351.92,153.12 351.12,155.58 348.54,155.58 347.74,153.12" fill="#16a016" stroke="#062806" stroke-width="0.95"/><polygon points="361.19,146.4 363.28,147.92 362.48,150.38 359.89,150.38 359.09,147.92" fill="#16a016" stroke="#062806" stroke-width="0.95"/><polygon points="372.54,145.2 374.63,146.72 373.83,149.18 371.25,149.18 370.45,146.72" fill="#16a016" stroke="#062806" stroke-width="0.95"/><polygon points="383.89,141.5 385.99,143.02 385.19,145.48 382.6,145.48 381.8,143.02" fill="#16a016" stroke="#062806" stroke-width="0.95"/><polygon points="395.25,139.4 397.34,140.92 396.54,143.38 393.96,143.38 393.16,140.92" fill="#16a016" stroke="#062806" stroke-width="0.95"/><polygon points="406.61,138 408.7,139.52 407.9,141.98 405.31,141.98 404.51,139.52" fill="#16a016" stroke="#062806" stroke-width="0.95"/><polyline points="281.7,192.2 293.06,193.6 304.41,195.1 315.76,195.1 327.12,190.9 338.48,186 349.83,185.5 361.19,183.7 372.54,181.3 383.89,180.9 395.25,180.8 406.61,176.9" fill="none" stroke="#222" stroke-width="0.9"/><rect x="279.95" y="190.45" width="3.5" height="3.5" fill="#9a009a" stroke="#200020" stroke-width="0.9"/><rect x="291.31" y="191.85" width="3.5" height="3.5" fill="#9a009a" stroke="#200020" stroke-width="0.9"/><rect x="302.66" y="193.35" width="3.5" height="3.5" fill="#9a009a" stroke="#200020" stroke-width="0.9"/><rect x="314.01" y="193.35" width="3.5" height="3.5" fill="#9a009a" stroke="#200020" stroke-width="0.9"/><rect x="325.37" y="189.15" width="3.5" height="3.5" fill="#9a009a" stroke="#200020" stroke-width="0.9"/><rect x="336.73" y="184.25" width="3.5" height="3.5" fill="#9a009a" stroke="#200020" stroke-width="0.9"/><rect x="348.08" y="183.75" width="3.5" height="3.5" fill="#9a009a" stroke="#200020" stroke-width="0.9"/><rect x="359.44" y="181.95" width="3.5" height="3.5" fill="#9a009a" stroke="#200020" stroke-width="0.9"/><rect x="370.79" y="179.55" width="3.5" height="3.5" fill="#9a009a" stroke="#200020" stroke-width="0.9"/><rect x="382.14" y="179.15" width="3.5" height="3.5" fill="#9a009a" stroke="#200020" stroke-width="0.9"/><rect x="393.5" y="179.05" width="3.5" height="3.5" fill="#9a009a" stroke="#200020" stroke-width="0.9"/><rect x="404.86" y="175.15" width="3.5" height="3.5" fill="#9a009a" stroke="#200020" stroke-width="0.9"/><line x1="281.2" y1="38.1" x2="293.4" y2="38.1" stroke="#222" stroke-width="0.9"/><rect x="285.55" y="36.35" width="3.5" height="3.5" fill="#9a009a" stroke="#200020" stroke-width="0.9"/><text transform="translate(294.8,40.4) scale(0.96,1)" font-family="Liberation Serif, serif" font-weight="bold" font-size="7.0" text-anchor="start" fill="#111" stroke="#111" stroke-width="0.32">La-O 2<tspan font-size="4.2" dy="-2.9">nd</tspan><tspan dy="2.9">-1 layer</tspan></text><line x1="281.2" y1="72.3" x2="293.4" y2="72.3" stroke="#222" stroke-width="0.9"/><polygon points="287.3,70.3 289.39,71.82 288.59,74.28 286.01,74.28 285.21,71.82" fill="#16a016" stroke="#062806" stroke-width="0.95"/><text transform="translate(294.8,74.6) scale(0.96,1)" font-family="Liberation Serif, serif" font-weight="bold" font-size="7.0" text-anchor="start" fill="#111" stroke="#111" stroke-width="0.32">La-O 1<tspan font-size="4.2" dy="-2.9">st</tspan><tspan dy="2.9">-1 layer</tspan></text><line x1="360.8" y1="123.1" x2="371.8" y2="123.1" stroke="#222" stroke-width="0.9"/><circle cx="366.3" cy="123.1" r="2.1" fill="#ff0a0a" stroke="#4a0000" stroke-width="0.95"/><text transform="translate(373.9,125.4) scale(0.96,1)" font-family="Liberation Serif, serif" font-weight="bold" font-size="7.0" text-anchor="start" fill="#111" stroke="#111" stroke-width="0.32">Interface R-O</text><line x1="281.2" y1="143.7" x2="293.4" y2="143.7" stroke="#222" stroke-width="0.9"/><polygon points="287.3,141.7 289.39,143.22 288.59,145.68 286.01,145.68 285.21,143.22" fill="#16a016" stroke="#062806" stroke-width="0.95"/><text transform="translate(294.8,146) scale(0.96,1)" font-family="Liberation Serif, serif" font-weight="bold" font-size="7.0" text-anchor="start" fill="#111" stroke="#111" stroke-width="0.32">La-O 1<tspan font-size="4.2" dy="-2.9">st</tspan><tspan dy="2.9">-2 layer</tspan></text><line x1="281.2" y1="178.6" x2="293.4" y2="178.6" stroke="#222" stroke-width="0.9"/><rect x="285.55" y="176.85" width="3.5" height="3.5" fill="#9a009a" stroke="#200020" stroke-width="0.9"/><text transform="translate(294.8,180.9) scale(0.96,1)" font-family="Liberation Serif, serif" font-weight="bold" font-size="7.0" text-anchor="start" fill="#111" stroke="#111" stroke-width="0.32">La-O 2<tspan font-size="4.2" dy="-2.9">nd</tspan><tspan dy="2.9">-2 layer</tspan></text><text transform="translate(42.5,226.7) scale(0.95,1)" font-family="Liberation Serif, serif" font-weight="bold" font-size="6.6" text-anchor="middle" fill="#111" stroke="#111" stroke-width="0.32">La</text><text transform="translate(53.97,226.7) scale(0.95,1)" font-family="Liberation Serif, serif" font-weight="bold" font-size="6.6" text-anchor="middle" fill="#111" stroke="#111" stroke-width="0.32">Ce</text><text transform="translate(65.44,226.7) scale(0.95,1)" font-family="Liberation Serif, serif" font-weight="bold" font-size="6.6" text-anchor="middle" fill="#111" stroke="#111" stroke-width="0.32">Pr</text><text transform="translate(76.91,226.7) scale(0.95,1)" font-family="Liberation Serif, serif" font-weight="bold" font-size="6.6" text-anchor="middle" fill="#111" stroke="#111" stroke-width="0.32">Nd</text><text transform="translate(88.38,226.7) scale(0.95,1)" font-family="Liberation Serif, serif" font-weight="bold" font-size="6.6" text-anchor="middle" fill="#111" stroke="#111" stroke-width="0.32">Sm</text><text transform="translate(99.85,226.7) scale(0.95,1)" font-family="Liberation Serif, serif" font-weight="bold" font-size="6.6" text-anchor="middle" fill="#111" stroke="#111" stroke-width="0.32">Gd</text><text transform="translate(111.32,226.7) scale(0.95,1)" font-family="Liberation Serif, serif" font-weight="bold" font-size="6.6" text-anchor="middle" fill="#111" stroke="#111" stroke-width="0.32">Tb</text><text transform="translate(122.79,226.7) scale(0.95,1)" font-family="Liberation Serif, serif" font-weight="bold" font-size="6.6" text-anchor="middle" fill="#111" stroke="#111" stroke-width="0.32">Dy</text><text transform="translate(134.26,226.7) scale(0.95,1)" font-family="Liberation Serif, serif" font-weight="bold" font-size="6.6" text-anchor="middle" fill="#111" stroke="#111" stroke-width="0.32">Ho</text><text transform="translate(145.73,226.7) scale(0.95,1)" font-family="Liberation Serif, serif" font-weight="bold" font-size="6.6" text-anchor="middle" fill="#111" stroke="#111" stroke-width="0.32">Er</text><text transform="translate(157.2,226.7) scale(0.95,1)" font-family="Liberation Serif, serif" font-weight="bold" font-size="6.6" text-anchor="middle" fill="#111" stroke="#111" stroke-width="0.32">Tm</text><text transform="translate(168.67,226.7) scale(0.95,1)" font-family="Liberation Serif, serif" font-weight="bold" font-size="6.6" text-anchor="middle" fill="#111" stroke="#111" stroke-width="0.32">Lu</text><text transform="translate(281.7,208.2) scale(0.95,1)" font-family="Liberation Serif, serif" font-weight="bold" font-size="6.6" text-anchor="middle" fill="#111" stroke="#111" stroke-width="0.32">La</text><text transform="translate(293.06,208.2) scale(0.95,1)" font-family="Liberation Serif, serif" font-weight="bold" font-size="6.6" text-anchor="middle" fill="#111" stroke="#111" stroke-width="0.32">Ce</text><text transform="translate(304.41,208.2) scale(0.95,1)" font-family="Liberation Serif, serif" font-weight="bold" font-size="6.6" text-anchor="middle" fill="#111" stroke="#111" stroke-width="0.32">Pr</text><text transform="translate(315.76,208.2) scale(0.95,1)" font-family="Liberation Serif, serif" font-weight="bold" font-size="6.6" text-anchor="middle" fill="#111" stroke="#111" stroke-width="0.32">Nd</text><text transform="translate(327.12,208.2) scale(0.95,1)" font-family="Liberation Serif, serif" font-weight="bold" font-size="6.6" text-anchor="middle" fill="#111" stroke="#111" stroke-width="0.32">Sm</text><text transform="translate(338.48,208.2) scale(0.95,1)" font-family="Liberation Serif, serif" font-weight="bold" font-size="6.6" text-anchor="middle" fill="#111" stroke="#111" stroke-width="0.32">Gd</text><text transform="translate(349.83,208.2) scale(0.95,1)" font-family="Liberation Serif, serif" font-weight="bold" font-size="6.6" text-anchor="middle" fill="#111" stroke="#111" stroke-width="0.32">Tb</text><text transform="translate(361.19,208.2) scale(0.95,1)" font-family="Liberation Serif, serif" font-weight="bold" font-size="6.6" text-anchor="middle" fill="#111" stroke="#111" stroke-width="0.32">Dy</text><text transform="translate(372.54,208.2) scale(0.95,1)" font-family="Liberation Serif, serif" font-weight="bold" font-size="6.6" text-anchor="middle" fill="#111" stroke="#111" stroke-width="0.32">Ho</text><text transform="translate(383.89,208.2) scale(0.95,1)" font-family="Liberation Serif, serif" font-weight="bold" font-size="6.6" text-anchor="middle" fill="#111" stroke="#111" stroke-width="0.32">Er</text><text transform="translate(395.25,208.2) scale(0.95,1)" font-family="Liberation Serif, serif" font-weight="bold" font-size="6.6" text-anchor="middle" fill="#111" stroke="#111" stroke-width="0.32">Tm</text><text transform="translate(406.61,208.2) scale(0.95,1)" font-family="Liberation Serif, serif" font-weight="bold" font-size="6.6" text-anchor="middle" fill="#111" stroke="#111" stroke-width="0.32">Lu</text><text transform="translate(105.7,239) scale(0.975,1)" font-family="Liberation Serif, serif" font-weight="bold" font-size="9.0" text-anchor="middle" fill="#111" stroke="#111" stroke-width="0.32">Rare-Earth Ions (R)</text><text transform="translate(344.2,220.6) scale(0.975,1)" font-family="Liberation Serif, serif" font-weight="bold" font-size="9.0" text-anchor="middle" fill="#111" stroke="#111" stroke-width="0.32">Rare-Earth Ions (R)</text><text transform="translate(7.9,115) rotate(-90)" font-family="Liberation Serif, serif" font-weight="bold" font-size="8.8" text-anchor="middle" fill="#111" stroke="#111" stroke-width="0.32">Bond Angles (deg.)</text><text transform="translate(446,114.5) rotate(-90)" font-family="Liberation Serif, serif" font-weight="bold" font-size="8.8" text-anchor="middle" fill="#111" stroke="#111" stroke-width="0.32">Displacements (&#197;)</text><text transform="translate(0.2,24.6)" font-family="Liberation Serif, serif" font-weight="bold" font-size="10.5" text-anchor="start" fill="#111" stroke="#111" stroke-width="0.1">(a)</text><text transform="translate(187.3,18.5)" font-family="Liberation Serif, serif" font-weight="bold" font-size="11.0" text-anchor="start" fill="#111" stroke="#111" stroke-width="0.05">(b)</text><text transform="translate(270.4,25.3)" font-family="Liberation Serif, serif" font-weight="bold" font-size="11.0" text-anchor="start" fill="#111" stroke="#111" stroke-width="0.05">(c)</text><polygon points="208.2,34.7 219.8,22.4 231.4,34.7 219.8,47" fill="#3aa83a" fill-opacity="1.0" stroke="none" stroke-width="0.4"/><polygon points="223.2,34.7 234.8,22.4 246.4,34.7 234.8,47" fill="#3aa83a" fill-opacity="1.0" stroke="none" stroke-width="0.4"/><polygon points="200.5,34.7 212.4,22.4 224.3,34.7 212.4,47" fill="#4aba4a" fill-opacity="1.0" stroke="#2e8a2e" stroke-width="0.4"/><polygon points="204.9,33.7 210.9,27.7 216.9,33.7 210.9,39.7" fill="#70c870" fill-opacity="0.25" stroke="none" stroke-width="0.4"/><path d="M201.4,34.7 H223.4 M212.4,23.3 V46.1" stroke="#a89040" stroke-width="0.6" stroke-opacity="0.4" fill="none"/><polygon points="229.7,34.7 241.6,22.4 253.5,34.7 241.6,47" fill="#4aba4a" fill-opacity="1.0" stroke="#2e8a2e" stroke-width="0.4"/><polygon points="234.1,33.7 240.1,27.7 246.1,33.7 240.1,39.7" fill="#70c870" fill-opacity="0.25" stroke="none" stroke-width="0.4"/><path d="M230.6,34.7 H252.6 M241.6,23.3 V46.1" stroke="#a89040" stroke-width="0.6" stroke-opacity="0.4" fill="none"/><polygon points="208.2,57.89 219.8,45.59 231.4,57.89 219.8,70.19" fill="#3aa83a" fill-opacity="1.0" stroke="none" stroke-width="0.4"/><polygon points="223.2,57.89 234.8,45.59 246.4,57.89 234.8,70.19" fill="#3aa83a" fill-opacity="1.0" stroke="none" stroke-width="0.4"/><polygon points="200.5,57.89 212.4,45.59 224.3,57.89 212.4,70.19" fill="#4aba4a" fill-opacity="1.0" stroke="#2e8a2e" stroke-width="0.4"/><polygon points="204.9,56.89 210.9,50.89 216.9,56.89 210.9,62.89" fill="#70c870" fill-opacity="0.25" stroke="none" stroke-width="0.4"/><path d="M201.4,57.89 H223.4 M212.4,46.49 V69.29" stroke="#a89040" stroke-width="0.6" stroke-opacity="0.4" fill="none"/><polygon points="229.7,57.89 241.6,45.59 253.5,57.89 241.6,70.19" fill="#4aba4a" fill-opacity="1.0" stroke="#2e8a2e" stroke-width="0.4"/><polygon points="234.1,56.89 240.1,50.89 246.1,56.89 240.1,62.89" fill="#70c870" fill-opacity="0.25" stroke="none" stroke-width="0.4"/><path d="M230.6,57.89 H252.6 M241.6,46.49 V69.29" stroke="#a89040" stroke-width="0.6" stroke-opacity="0.4" fill="none"/><polygon points="208.2,81.08 219.8,68.78 231.4,81.08 219.8,93.38" fill="#3aa83a" fill-opacity="1.0" stroke="none" stroke-width="0.4"/><polygon points="223.2,81.08 234.8,68.78 246.4,81.08 234.8,93.38" fill="#3aa83a" fill-opacity="1.0" stroke="none" stroke-width="0.4"/><polygon points="200.5,81.08 212.4,68.78 224.3,81.08 212.4,93.38" fill="#4aba4a" fill-opacity="1.0" stroke="#2e8a2e" stroke-width="0.4"/><polygon points="204.9,80.08 210.9,74.08 216.9,80.08 210.9,86.08" fill="#70c870" fill-opacity="0.25" stroke="none" stroke-width="0.4"/><path d="M201.4,81.08 H223.4 M212.4,69.68 V92.48" stroke="#a89040" stroke-width="0.6" stroke-opacity="0.4" fill="none"/><polygon points="229.7,81.08 241.6,68.78 253.5,81.08 241.6,93.38" fill="#4aba4a" fill-opacity="1.0" stroke="#2e8a2e" stroke-width="0.4"/><polygon points="234.1,80.08 240.1,74.08 246.1,80.08 240.1,86.08" fill="#70c870" fill-opacity="0.25" stroke="none" stroke-width="0.4"/><path d="M230.6,81.08 H252.6 M241.6,69.68 V92.48" stroke="#a89040" stroke-width="0.6" stroke-opacity="0.4" fill="none"/><polygon points="208.2,104.27 219.8,91.97 231.4,104.27 219.8,116.57" fill="#3aa83a" fill-opacity="1.0" stroke="none" stroke-width="0.4"/><polygon points="223.2,104.27 234.8,91.97 246.4,104.27 234.8,116.57" fill="#3aa83a" fill-opacity="1.0" stroke="none" stroke-width="0.4"/><polygon points="200.5,104.27 212.4,91.97 224.3,104.27 212.4,116.57" fill="#4aba4a" fill-opacity="1.0" stroke="#2e8a2e" stroke-width="0.4"/><polygon points="204.9,103.27 210.9,97.27 216.9,103.27 210.9,109.27" fill="#70c870" fill-opacity="0.25" stroke="none" stroke-width="0.4"/><path d="M201.4,104.27 H223.4 M212.4,92.87 V115.67" stroke="#a89040" stroke-width="0.6" stroke-opacity="0.4" fill="none"/><polygon points="229.7,104.27 241.6,91.97 253.5,104.27 241.6,116.57" fill="#4aba4a" fill-opacity="1.0" stroke="#2e8a2e" stroke-width="0.4"/><polygon points="234.1,103.27 240.1,97.27 246.1,103.27 240.1,109.27" fill="#70c870" fill-opacity="0.25" stroke="none" stroke-width="0.4"/><path d="M230.6,104.27 H252.6 M241.6,92.87 V115.67" stroke="#a89040" stroke-width="0.6" stroke-opacity="0.4" fill="none"/><polygon points="208.2,127.46 219.8,115.16 231.4,127.46 219.8,139.76" fill="#3278cc" fill-opacity="1.0" stroke="none" stroke-width="0.4"/><polygon points="223.2,127.46 234.8,115.16 246.4,127.46 234.8,139.76" fill="#3278cc" fill-opacity="1.0" stroke="none" stroke-width="0.4"/><polygon points="200.5,127.46 212.4,115.16 224.3,127.46 212.4,139.76" fill="#3c88dc" fill-opacity="1.0" stroke="#1f5fb0" stroke-width="0.4"/><polygon points="204.9,126.46 210.9,120.46 216.9,126.46 210.9,132.46" fill="#64a6ee" fill-opacity="0.25" stroke="none" stroke-width="0.4"/><path d="M201.4,127.46 H223.4 M212.4,116.06 V138.86" stroke="#7a90c0" stroke-width="0.6" stroke-opacity="0.4" fill="none"/><polygon points="229.7,127.46 241.6,115.16 253.5,127.46 241.6,139.76" fill="#3c88dc" fill-opacity="1.0" stroke="#1f5fb0" stroke-width="0.4"/><polygon points="234.1,126.46 240.1,120.46 246.1,126.46 240.1,132.46" fill="#64a6ee" fill-opacity="0.25" stroke="none" stroke-width="0.4"/><path d="M230.6,127.46 H252.6 M241.6,116.06 V138.86" stroke="#7a90c0" stroke-width="0.6" stroke-opacity="0.4" fill="none"/><polygon points="208.2,150.65 219.8,138.35 231.4,150.65 219.8,162.95" fill="#3278cc" fill-opacity="1.0" stroke="none" stroke-width="0.4"/><polygon points="223.2,150.65 234.8,138.35 246.4,150.65 234.8,162.95" fill="#3278cc" fill-opacity="1.0" stroke="none" stroke-width="0.4"/><polygon points="200.5,150.65 212.4,138.35 224.3,150.65 212.4,162.95" fill="#3c88dc" fill-opacity="1.0" stroke="#1f5fb0" stroke-width="0.4"/><polygon points="204.9,149.65 210.9,143.65 216.9,149.65 210.9,155.65" fill="#64a6ee" fill-opacity="0.25" stroke="none" stroke-width="0.4"/><path d="M201.4,150.65 H223.4 M212.4,139.25 V162.05" stroke="#7a90c0" stroke-width="0.6" stroke-opacity="0.4" fill="none"/><polygon points="229.7,150.65 241.6,138.35 253.5,150.65 241.6,162.95" fill="#3c88dc" fill-opacity="1.0" stroke="#1f5fb0" stroke-width="0.4"/><polygon points="234.1,149.65 240.1,143.65 246.1,149.65 240.1,155.65" fill="#64a6ee" fill-opacity="0.25" stroke="none" stroke-width="0.4"/><path d="M230.6,150.65 H252.6 M241.6,139.25 V162.05" stroke="#7a90c0" stroke-width="0.6" stroke-opacity="0.4" fill="none"/><polygon points="208.2,173.84 219.8,161.54 231.4,173.84 219.8,186.14" fill="#3278cc" fill-opacity="1.0" stroke="none" stroke-width="0.4"/><polygon points="223.2,173.84 234.8,161.54 246.4,173.84 234.8,186.14" fill="#3278cc" fill-opacity="1.0" stroke="none" stroke-width="0.4"/><polygon points="200.5,173.84 212.4,161.54 224.3,173.84 212.4,186.14" fill="#3c88dc" fill-opacity="1.0" stroke="#1f5fb0" stroke-width="0.4"/><polygon points="204.9,172.84 210.9,166.84 216.9,172.84 210.9,178.84" fill="#64a6ee" fill-opacity="0.25" stroke="none" stroke-width="0.4"/><path d="M201.4,173.84 H223.4 M212.4,162.44 V185.24" stroke="#7a90c0" stroke-width="0.6" stroke-opacity="0.4" fill="none"/><polygon points="229.7,173.84 241.6,161.54 253.5,173.84 241.6,186.14" fill="#3c88dc" fill-opacity="1.0" stroke="#1f5fb0" stroke-width="0.4"/><polygon points="234.1,172.84 240.1,166.84 246.1,172.84 240.1,178.84" fill="#64a6ee" fill-opacity="0.25" stroke="none" stroke-width="0.4"/><path d="M230.6,173.84 H252.6 M241.6,162.44 V185.24" stroke="#7a90c0" stroke-width="0.6" stroke-opacity="0.4" fill="none"/><polygon points="208.2,197.03 219.8,184.73 231.4,197.03 219.8,209.33" fill="#3278cc" fill-opacity="1.0" stroke="none" stroke-width="0.4"/><polygon points="223.2,197.03 234.8,184.73 246.4,197.03 234.8,209.33" fill="#3278cc" fill-opacity="1.0" stroke="none" stroke-width="0.4"/><polygon points="200.5,197.03 212.4,184.73 224.3,197.03 212.4,209.33" fill="#3c88dc" fill-opacity="1.0" stroke="#1f5fb0" stroke-width="0.4"/><polygon points="204.9,196.03 210.9,190.03 216.9,196.03 210.9,202.03" fill="#64a6ee" fill-opacity="0.25" stroke="none" stroke-width="0.4"/><path d="M201.4,197.03 H223.4 M212.4,185.63 V208.43" stroke="#7a90c0" stroke-width="0.6" stroke-opacity="0.4" fill="none"/><polygon points="229.7,197.03 241.6,184.73 253.5,197.03 241.6,209.33" fill="#3c88dc" fill-opacity="1.0" stroke="#1f5fb0" stroke-width="0.4"/><polygon points="234.1,196.03 240.1,190.03 246.1,196.03 240.1,202.03" fill="#64a6ee" fill-opacity="0.25" stroke="none" stroke-width="0.4"/><path d="M230.6,197.03 H252.6 M241.6,185.63 V208.43" stroke="#7a90c0" stroke-width="0.6" stroke-opacity="0.4" fill="none"/><circle cx="201.0" cy="34.7" r="1.85" fill="url(#gO)"/><circle cx="208.9" cy="34.7" r="1.85" fill="url(#gO)"/><circle cx="223.9" cy="34.7" r="1.85" fill="url(#gO)"/><circle cx="230.3" cy="34.7" r="1.85" fill="url(#gO)"/><circle cx="246.0" cy="34.7" r="1.85" fill="url(#gO)"/><circle cx="252.9" cy="34.7" r="1.85" fill="url(#gO)"/><circle cx="201.0" cy="57.89" r="1.85" fill="url(#gO)"/><circle cx="208.9" cy="57.89" r="1.85" fill="url(#gO)"/><circle cx="223.9" cy="57.89" r="1.85" fill="url(#gO)"/><circle cx="230.3" cy="57.89" r="1.85" fill="url(#gO)"/><circle cx="246.0" cy="57.89" r="1.85" fill="url(#gO)"/><circle cx="252.9" cy="57.89" r="1.85" fill="url(#gO)"/><circle cx="201.0" cy="81.08" r="1.85" fill="url(#gO)"/><circle cx="208.9" cy="81.08" r="1.85" fill="url(#gO)"/><circle cx="223.9" cy="81.08" r="1.85" fill="url(#gO)"/><circle cx="230.3" cy="81.08" r="1.85" fill="url(#gO)"/><circle cx="246.0" cy="81.08" r="1.85" fill="url(#gO)"/><circle cx="252.9" cy="81.08" r="1.85" fill="url(#gO)"/><circle cx="201.0" cy="104.27" r="1.85" fill="url(#gO)"/><circle cx="208.9" cy="104.27" r="1.85" fill="url(#gO)"/><circle cx="223.9" cy="104.27" r="1.85" fill="url(#gO)"/><circle cx="230.3" cy="104.27" r="1.85" fill="url(#gO)"/><circle cx="246.0" cy="104.27" r="1.85" fill="url(#gO)"/><circle cx="252.9" cy="104.27" r="1.85" fill="url(#gO)"/><circle cx="201.0" cy="127.46" r="1.85" fill="url(#gO)"/><circle cx="208.9" cy="127.46" r="1.85" fill="url(#gO)"/><circle cx="223.9" cy="127.46" r="1.85" fill="url(#gO)"/><circle cx="230.3" cy="127.46" r="1.85" fill="url(#gO)"/><circle cx="246.0" cy="127.46" r="1.85" fill="url(#gO)"/><circle cx="252.9" cy="127.46" r="1.85" fill="url(#gO)"/><circle cx="201.0" cy="150.65" r="1.85" fill="url(#gO)"/><circle cx="208.9" cy="150.65" r="1.85" fill="url(#gO)"/><circle cx="223.9" cy="150.65" r="1.85" fill="url(#gO)"/><circle cx="230.3" cy="150.65" r="1.85" fill="url(#gO)"/><circle cx="246.0" cy="150.65" r="1.85" fill="url(#gO)"/><circle cx="252.9" cy="150.65" r="1.85" fill="url(#gO)"/><circle cx="201.0" cy="173.84" r="1.85" fill="url(#gO)"/><circle cx="208.9" cy="173.84" r="1.85" fill="url(#gO)"/><circle cx="223.9" cy="173.84" r="1.85" fill="url(#gO)"/><circle cx="230.3" cy="173.84" r="1.85" fill="url(#gO)"/><circle cx="246.0" cy="173.84" r="1.85" fill="url(#gO)"/><circle cx="252.9" cy="173.84" r="1.85" fill="url(#gO)"/><circle cx="201.0" cy="197.03" r="1.85" fill="url(#gO)"/><circle cx="208.9" cy="197.03" r="1.85" fill="url(#gO)"/><circle cx="223.9" cy="197.03" r="1.85" fill="url(#gO)"/><circle cx="230.3" cy="197.03" r="1.85" fill="url(#gO)"/><circle cx="246.0" cy="197.03" r="1.85" fill="url(#gO)"/><circle cx="252.9" cy="197.03" r="1.85" fill="url(#gO)"/><ellipse cx="216.4" cy="23.1" rx="1.7" ry="3.5" fill="url(#gLa)"/><circle cx="204.6" cy="23.1" r="4.0" fill="url(#gLa)"/><circle cx="226.7" cy="23.1" r="4.0" fill="url(#gLa)"/><circle cx="234.6" cy="23.1" r="4.0" fill="url(#gLa)"/><circle cx="248.4" cy="23.1" r="4.0" fill="url(#gLa)"/><circle cx="212.0" cy="23.1" r="1.6" fill="url(#gO)"/><circle cx="220.1" cy="23.1" r="1.6" fill="url(#gO)"/><circle cx="241.7" cy="23.1" r="1.6" fill="url(#gO)"/><ellipse cx="216.4" cy="46.29" rx="1.7" ry="3.5" fill="url(#gLa)"/><circle cx="204.6" cy="46.29" r="4.0" fill="url(#gLa)"/><circle cx="226.7" cy="46.29" r="4.0" fill="url(#gLa)"/><circle cx="234.6" cy="46.29" r="4.0" fill="url(#gLa)"/><circle cx="248.4" cy="46.29" r="4.0" fill="url(#gLa)"/><circle cx="212.0" cy="46.29" r="1.6" fill="url(#gO)"/><circle cx="220.1" cy="46.29" r="1.6" fill="url(#gO)"/><circle cx="241.7" cy="46.29" r="1.6" fill="url(#gO)"/><ellipse cx="216.4" cy="69.48" rx="1.7" ry="3.5" fill="url(#gLa)"/><circle cx="204.6" cy="69.48" r="4.0" fill="url(#gLa)"/><circle cx="226.7" cy="69.48" r="4.0" fill="url(#gLa)"/><circle cx="234.6" cy="69.48" r="4.0" fill="url(#gLa)"/><circle cx="248.4" cy="69.48" r="4.0" fill="url(#gLa)"/><circle cx="212.0" cy="69.48" r="1.6" fill="url(#gO)"/><circle cx="220.1" cy="69.48" r="1.6" fill="url(#gO)"/><circle cx="241.7" cy="69.48" r="1.6" fill="url(#gO)"/><ellipse cx="216.4" cy="92.67" rx="1.7" ry="3.5" fill="url(#gLa)"/><circle cx="204.6" cy="92.67" r="4.0" fill="url(#gLa)"/><circle cx="226.7" cy="92.67" r="4.0" fill="url(#gLa)"/><circle cx="234.6" cy="92.67" r="4.0" fill="url(#gLa)"/><circle cx="248.4" cy="92.67" r="4.0" fill="url(#gLa)"/><circle cx="212.0" cy="92.67" r="1.6" fill="url(#gO)"/><circle cx="220.1" cy="92.67" r="1.6" fill="url(#gO)"/><circle cx="241.7" cy="92.67" r="1.6" fill="url(#gO)"/><ellipse cx="216.4" cy="115.86" rx="1.7" ry="3.5" fill="url(#gPu)"/><circle cx="204.6" cy="115.86" r="4.0" fill="url(#gPu)"/><circle cx="226.7" cy="115.86" r="4.0" fill="url(#gPu)"/><circle cx="234.6" cy="115.86" r="4.0" fill="url(#gPu)"/><circle cx="248.4" cy="115.86" r="4.0" fill="url(#gPu)"/><circle cx="212.0" cy="115.86" r="1.6" fill="url(#gO)"/><circle cx="220.1" cy="115.86" r="1.6" fill="url(#gO)"/><circle cx="241.7" cy="115.86" r="1.6" fill="url(#gO)"/><ellipse cx="216.4" cy="139.05" rx="1.7" ry="3.5" fill="url(#gLa)"/><circle cx="204.6" cy="139.05" r="4.0" fill="url(#gLa)"/><circle cx="226.7" cy="139.05" r="4.0" fill="url(#gLa)"/><circle cx="234.6" cy="139.05" r="4.0" fill="url(#gLa)"/><circle cx="248.4" cy="139.05" r="4.0" fill="url(#gLa)"/><circle cx="212.0" cy="139.05" r="1.6" fill="url(#gO)"/><circle cx="220.1" cy="139.05" r="1.6" fill="url(#gO)"/><circle cx="241.7" cy="139.05" r="1.6" fill="url(#gO)"/><ellipse cx="216.4" cy="162.24" rx="1.7" ry="3.5" fill="url(#gLa)"/><circle cx="204.6" cy="162.24" r="4.0" fill="url(#gLa)"/><circle cx="226.7" cy="162.24" r="4.0" fill="url(#gLa)"/><circle cx="234.6" cy="162.24" r="4.0" fill="url(#gLa)"/><circle cx="248.4" cy="162.24" r="4.0" fill="url(#gLa)"/><circle cx="212.0" cy="162.24" r="1.6" fill="url(#gO)"/><circle cx="220.1" cy="162.24" r="1.6" fill="url(#gO)"/><circle cx="241.7" cy="162.24" r="1.6" fill="url(#gO)"/><ellipse cx="216.4" cy="185.43" rx="1.7" ry="3.5" fill="url(#gLa)"/><circle cx="204.6" cy="185.43" r="4.0" fill="url(#gLa)"/><circle cx="226.7" cy="185.43" r="4.0" fill="url(#gLa)"/><circle cx="234.6" cy="185.43" r="4.0" fill="url(#gLa)"/><circle cx="248.4" cy="185.43" r="4.0" fill="url(#gLa)"/><circle cx="212.0" cy="185.43" r="1.6" fill="url(#gO)"/><circle cx="220.1" cy="185.43" r="1.6" fill="url(#gO)"/><circle cx="241.7" cy="185.43" r="1.6" fill="url(#gO)"/><ellipse cx="216.4" cy="208.62" rx="1.7" ry="3.5" fill="url(#gLa)"/><circle cx="204.6" cy="208.62" r="4.0" fill="url(#gLa)"/><circle cx="226.7" cy="208.62" r="4.0" fill="url(#gLa)"/><circle cx="234.6" cy="208.62" r="4.0" fill="url(#gLa)"/><circle cx="248.4" cy="208.62" r="4.0" fill="url(#gLa)"/><circle cx="212.0" cy="208.62" r="1.6" fill="url(#gO)"/><circle cx="220.1" cy="208.62" r="1.6" fill="url(#gO)"/><circle cx="241.7" cy="208.62" r="1.6" fill="url(#gO)"/><line x1="200.0" y1="57.5" x2="181.6" y2="30.2" stroke="#000" stroke-width="1.1" marker-end="url(#ah)"/><line x1="200.0" y1="81.3" x2="182.2" y2="67.0" stroke="#000" stroke-width="1.1" marker-end="url(#ah)"/><line x1="200.0" y1="104.4" x2="182.2" y2="99.9" stroke="#000" stroke-width="1.1" marker-end="url(#ah)"/><line x1="200.0" y1="127.9" x2="182.2" y2="133.8" stroke="#000" stroke-width="1.1" marker-end="url(#ah)"/><line x1="200.0" y1="151.1" x2="182.2" y2="168.0" stroke="#000" stroke-width="1.1" marker-end="url(#ah)"/><line x1="200.0" y1="174.6" x2="182.2" y2="199.2" stroke="#000" stroke-width="1.1" marker-end="url(#ah)"/><line x1="253.8" y1="69.8" x2="268.6" y2="49.6" stroke="#000" stroke-width="1.1" marker-end="url(#ah)"/><line x1="253.8" y1="90.8" x2="268.6" y2="82.6" stroke="#000" stroke-width="1.1" marker-end="url(#ah)"/><line x1="254.3" y1="116.3" x2="268.6" y2="116.3" stroke="#000" stroke-width="1.1" marker-end="url(#ah)"/><line x1="254.3" y1="139.5" x2="268.6" y2="153.8" stroke="#000" stroke-width="1.1" marker-end="url(#ah)"/><line x1="254.3" y1="166.9" x2="268.6" y2="182.9" stroke="#000" stroke-width="1.1" marker-end="url(#ah)"/><line x1="191.8" y1="222" x2="191.8" y2="209" stroke="#1414e6" stroke-width="1.5"/><polygon points="191.8,204.6 189.6,209.6 194,209.6" fill="#1414e6"/><line x1="191.8" y1="222" x2="203.5" y2="222" stroke="#18c818" stroke-width="1.5"/><polygon points="208,222 203,219.8 203,224.2" fill="#18c818"/><line x1="191.8" y1="222" x2="184.2" y2="222" stroke="#e01010" stroke-width="1.4"/><circle cx="187" cy="222" r="1.8" fill="#d01010"/><circle cx="191.8" cy="222" r="0.9" fill="#bbb"/><text transform="translate(192.4,202.5)" font-family="Liberation Serif, serif" font-weight="bold" font-size="5.4" text-anchor="middle" fill="#444" stroke="#444" stroke-width="0.1">c</text><text transform="translate(212,223.8)" font-family="Liberation Serif, serif" font-weight="bold" font-size="5.4" text-anchor="middle" fill="#444" stroke="#444" stroke-width="0.1">b</text><text transform="translate(182.8,223.8)" font-family="Liberation Serif, serif" font-weight="bold" font-size="5.4" text-anchor="middle" fill="#444" stroke="#444" stroke-width="0.1">a</text></svg></body></html>
